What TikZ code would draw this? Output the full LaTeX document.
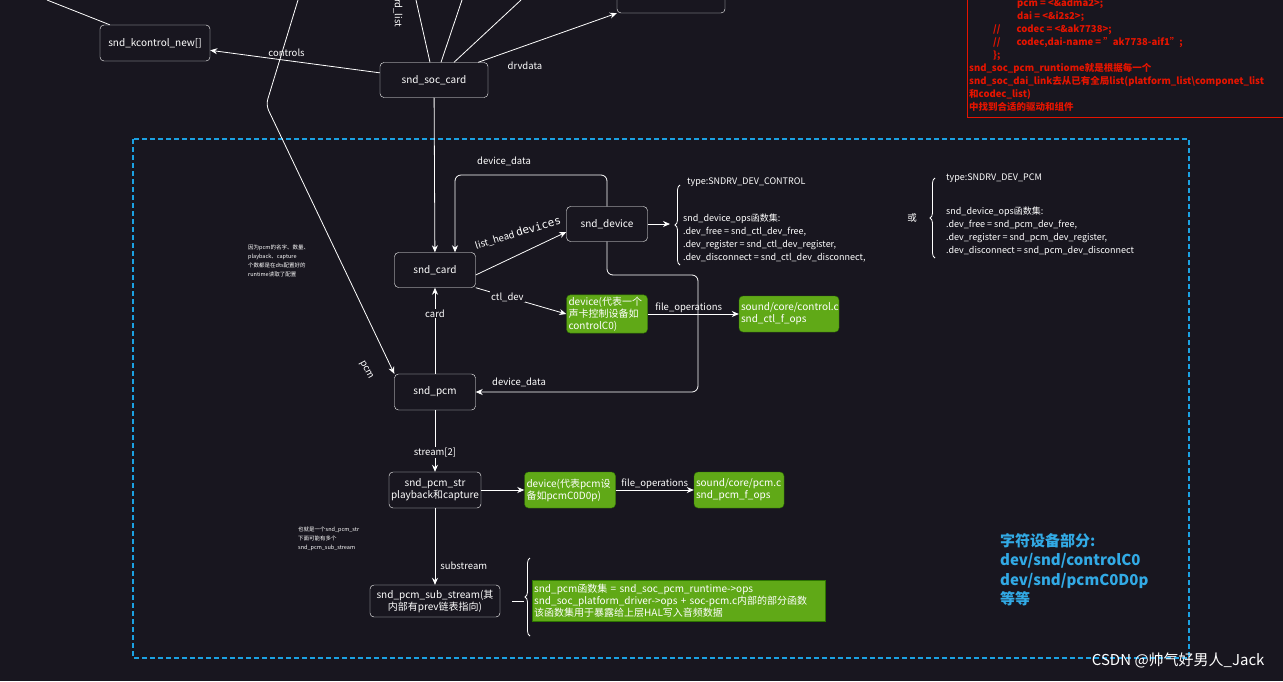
\documentclass[tikz,border=0pt]{standalone}
\usepackage{fontspec}
\setmainfont{Noto Sans CJK SC}
\usetikzlibrary{arrows.meta,decorations.pathreplacing}
\definecolor{bg}{HTML}{18161F}
\definecolor{gr}{HTML}{60A917}
\definecolor{grb}{HTML}{2D7600}
\definecolor{bl}{HTML}{1BA1E2}
\definecolor{rd}{HTML}{E51400}
\begin{document}
\begin{tikzpicture}[x=1pt,y=-1pt,
  every node/.style={text=white,font=\fontsize{10}{12}\selectfont},
  box/.style={draw=white!85,rounded corners=4pt,fill=bg,align=center,inner sep=2pt},
  gbox/.style={draw=grb,fill=gr,rounded corners=4pt,align=left,inner sep=2pt},
  ln/.style={draw=white!85,line width=0.8pt},
  ar/.style={ln,-{Stealth[length=7pt,width=6pt]}},
  lb/.style={font=\fontsize{9.5}{11}\selectfont,inner sep=1pt},
  note/.style={font=\fontsize{5.5}{9}\itshape\selectfont,align=left,anchor=north west,inner sep=0pt}]
\useasboundingbox (0,0) rectangle (1283,681);
\fill[bg] (0,0) rectangle (1283,681);
% boxes
\node[box,minimum width=110pt,minimum height=36pt] (kc) at (155,43) {snd\_kcontrol\_new[]};
\node[box,minimum width=108pt,minimum height=35pt] (soc) at (434,80) {snd\_soc\_card};
\node[box,minimum width=108pt,minimum height=30pt] (top) at (671,-2) {};
\node[box,minimum width=81pt,minimum height=35pt] (card) at (435,270) {snd\_card};
\node[box,minimum width=81pt,minimum height=35pt] (dev) at (607,224) {snd\_device};
\node[box,minimum width=81pt,minimum height=36pt] (pcm) at (435,392) {snd\_pcm};
\node[box,minimum width=92pt,minimum height=36pt] (str) at (435,490) {snd\_pcm\_str\\playback和capture};
\node[box,minimum width=130pt,minimum height=32pt] (sub) at (435,601) {snd\_pcm\_sub\_stream(其\\内部有prev链表指向)};
\node[gbox,text width=77pt,minimum height=36pt] (cdev) at (607,314) {device(代表一个\\声卡控制设备如\\controlC0)};
\node[gbox,text width=96pt,minimum height=36pt] (cc) at (789,314) {sound/core/control.c\\snd\_ctl\_f\_ops};
\node[gbox,text width=87pt,minimum height=36pt] (pdev) at (570,490) {device(代表pcm设\\备如pcmC0D0p)};
\node[gbox,text width=86pt,minimum height=36pt] (pc) at (739,490) {sound/core/pcm.c\\snd\_pcm\_f\_ops};
\node[gbox,text width=289pt,minimum height=41pt,rounded corners=0pt,anchor=west] (ops) at (532,601) {snd\_pcm函数集 = snd\_soc\_pcm\_runtime->ops\\snd\_soc\_platform\_driver->ops + soc-pcm.c内部的部分函数\\该函数集用于暴露给上层HAL写入音频数据};
% dashed frame
\draw[bl,line width=1.2pt,dash pattern=on 5pt off 3pt] (133,139) rectangle (1189,658);
% top lines
\coordinate (t1) at (47,0); \coordinate (t2) at (416,0); \coordinate (t3) at (462,0); \coordinate (t4) at (521,0);
\coordinate (c1) at (298,0); \coordinate (c2) at (266,105);
\draw[ln] (kc.north west)++(10,0) -- (t1);
\draw[ln] (soc.north)++(-4,0) -- (t2);
\draw[ln] (soc.north)++(7,0) -- (t3);
\draw[ln] (soc.north)++(20,0) -- (t4);
\node[lb,rotate=-90,anchor=west] at (398,-2) {rd\_list};
\draw[ar] (soc) -- node[lb,above,pos=0.55,yshift=2pt] {controls} (kc);
\draw[ar] (soc.north east)++(-10,0) -- (top.south west);
\node[lb] at (525,66) {drvdata};
\draw[ar,rounded corners=6pt] (c1) -- (c2) -- (pcm.north west);
\node[lb,rotate=-62] at (366,370) {pcm};
% middle
\draw[ar] (soc) -- (card);
\draw[ar,rounded corners=6pt] (dev.north) -- (607,175) -- (455,175) -- (card.north -| 455,0);
\node[lb] at (504,161) {device\_data};
\draw[ar] (card.east) ++(0,5) -- (dev.west |- 0,232);
\node[lb,rotate=17] at (518,233) {list\_head {\fontspec{DejaVu Sans Mono}\fontsize{11}{12}\selectfont devices}};
\draw[ar] (dev) -- (670,224);
\draw[ar,rounded corners=6pt] (dev.south) -- (607,275) -- (698,275) -- (698,392) -- (pcm.east);
\node[lb] at (519,382) {device\_data};
\draw[ar] (card.south east) -- node[lb,pos=0.35,fill=bg] {ctl\_dev} (cdev.west);
\draw[ar] (cdev) -- node[lb,above,pos=0.45] {file\_operations} (cc);
\draw[ar] (pcm) -- node[lb,fill=bg,pos=0.7] {card} (card);
\draw[ar] (pcm) -- node[lb,fill=bg,pos=0.68] {stream[2]} (str);
\draw[ar] (str) -- (pdev);
\draw[ar] (pdev) -- node[lb,above] {file\_operations} (pc);
\draw[ar] (str) -- node[lb,right,pos=0.75,xshift=4pt] {substream} (sub);
% braces
\draw[ln,decorate,decoration={brace,amplitude=5pt}] (680,265) -- (680,185);
\draw[ln,decorate,decoration={brace,amplitude=5pt}] (935,258) -- (935,178);
\draw[ln,decorate,decoration={brace,amplitude=5pt}] (530,636) -- (530,558);
\draw[ln] (512,601) -- (524,601);
\node[lb,anchor=north west,align=left,inner sep=0pt,font=\fontsize{9}{11.5}\selectfont] (t1n) at (687,178) {type:SNDRV\_DEV\_CONTROL};
\node[lb,anchor=north west,align=left,inner sep=0pt,font=\fontsize{9}{13}\selectfont] (t1b) at (683,214) {snd\_device\_ops函数集:\\.dev\_free = snd\_ctl\_dev\_free,\\.dev\_register = snd\_ctl\_dev\_register,\\.dev\_disconnect = snd\_ctl\_dev\_disconnect,};
\node[lb] (or) at (912,218) {或};
\node[lb,anchor=north west,align=left,inner sep=0pt,font=\fontsize{9}{11.5}\selectfont] (t2n) at (946,174) {type:SNDRV\_DEV\_PCM};
\node[lb,anchor=north west,align=left,inner sep=0pt,font=\fontsize{9}{13}\selectfont] (t2b) at (946,207) {snd\_device\_ops函数集:\\.dev\_free = snd\_pcm\_dev\_free,\\.dev\_register = snd\_pcm\_dev\_register,\\.dev\_disconnect = snd\_pcm\_dev\_disconnect};
% notes
\node[note] (n1) at (248,245) {因为pcm的名字、数量、\\playback、capture\\个数都是在dts配置好的\\runtime读取了配置};
\node[note] (n2) at (298,527) {也就是一个snd\_pcm\_str\\下面可能有多个\\snd\_pcm\_sub\_stream};
% red box
\draw[rd,line width=1pt] (967,-2) rectangle (1290,117);
\node[anchor=north west,align=left,inner sep=0pt,text=rd,font=\fontsize{9.5}{13}\bfseries\selectfont] (red) at (969,-1) {\hspace*{48pt}pcm = <\&adma2>;\\\hspace*{48pt}dai = <\&i2s2>;\\\hspace*{24pt}//\hspace*{16pt}codec = <\&ak7738>;\\\hspace*{24pt}//\hspace*{16pt}codec,dai-name = "ak7738-aif1";\\\hspace*{24pt}\};\\snd\_soc\_pcm\_runtiome就是根据每一个\\snd\_soc\_dai\_link去从已有全局list(platform\_list\textbackslash componet\_list\\和codec\_list)\\中找到合适的驱动和组件};
% blue text
\node[anchor=north west,align=left,inner sep=0pt,text=bl!90!white,font=\fontsize{15}{19.5}\bfseries\selectfont] (bt) at (1000,533) {字符设备部分:\\dev/snd/controlC0\\dev/snd/pcmC0D0p\\等等};
\node[anchor=east,text=white!70,font=\fontsize{15}{17}\selectfont] (wm) at (1268,660) {CSDN @帅气好男人\_Jack};
\end{tikzpicture}
\end{document}
